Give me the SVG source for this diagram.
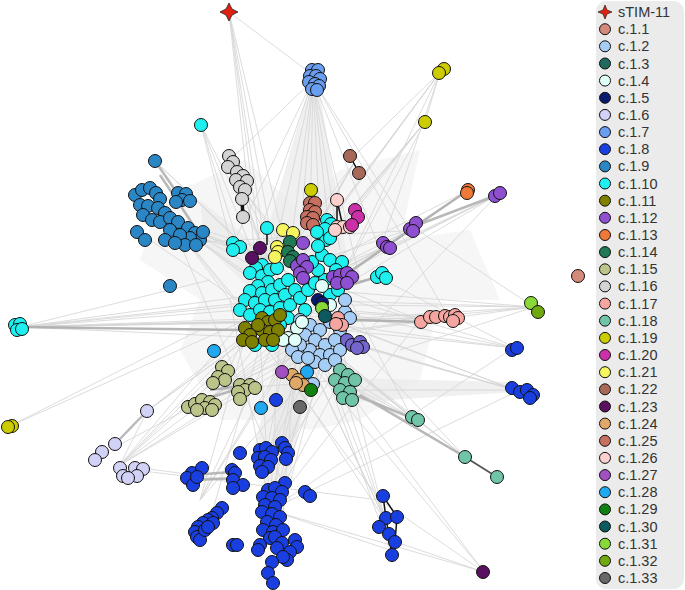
<svg xmlns="http://www.w3.org/2000/svg" width="685" height="590" viewBox="0 0 685 590">
<style>
.n circle{r:6.5px;stroke:#111;stroke-width:1}
.lg circle{r:5.5px;stroke:#111;stroke-width:1}
.lg text{font-family:"Liberation Sans",Arial,sans-serif;font-size:14.5px;fill:#333}
.e1{stroke:#d6d6d6;stroke-width:1;fill:none;opacity:.85}
.e2{stroke:#a8a8a8;stroke-width:2.5;fill:none;opacity:.8}
.e3{stroke:#111;stroke-width:1.5;fill:none}
.w{fill:#e4e4e4;opacity:.55}
.wb{fill:#ececec;opacity:.45}
.k1{fill:#d48a7a}.k2{fill:#a6cdf5}.k3{fill:#1e6b5e}.k4{fill:#e0fff8}.k5{fill:#0a1a6e}.k6{fill:#d2d2f6}.k7{fill:#6a9ef0}.k8{fill:#1a3fe0}.k9{fill:#2a86c4}.k10{fill:#1ef0f0}.k11{fill:#808000}.k12{fill:#8e4fd0}.k13{fill:#f07838}.k14{fill:#1f7a55}.k15{fill:#bcc48a}.k16{fill:#d4d4d4}.k17{fill:#f5a6a0}.k18{fill:#70c4a8}.k19{fill:#cccc00}.k20{fill:#cc30a8}.k21{fill:#f5f560}.k22{fill:#a86858}.k23{fill:#5a1060}.k24{fill:#e0a868}.k25{fill:#c87060}.k26{fill:#fcd0cc}.k27{fill:#a050c0}.k28{fill:#20a8f0}.k29{fill:#108010}.k30{fill:#0a5a60}.k31{fill:#88d838}.k32{fill:#70a810}.k33{fill:#686868}.ks{fill:#7466cc}
</style>
<rect width="685" height="590" fill="#fff"/>
<g id="edges">
<polygon class="w" points="309,88 319,88 348,262 258,262"/>
<polygon class="w" points="200,200 205,245 262,300 272,258"/>
<polygon class="w" points="255,445 292,445 322,350 280,340"/>
<polygon class="w" points="262,490 288,490 312,360 288,355"/>
<polygon class="w" points="342,378 358,402 512,392 514,382"/>
<polygon class="wb" points="160,200 245,160 300,210 340,170 420,150 400,240 470,230 500,300 440,300 420,380 360,420 310,430 260,420 220,420 180,350 200,300 140,260"/>
<path class="e1" d="M229,12L262,260M229,12L268,265M229,12L275,255M229,12L285,245M229,12L255,255M229,12L313,75
M313,80L230,250M313,80L250,260M313,80L270,270M313,80L290,250M313,80L300,240M313,80L310,230M313,80L320,230M313,80L330,240M313,80L340,250M313,80L360,280M313,80L380,250M313,80L230,160M313,80L450,320M313,80L410,230
M440,72L425,122M440,72L350,160M440,72L330,220M440,72L310,250M440,72L300,260M440,72L340,280M440,72L380,250
M425,122L340,230M425,122L320,250M425,122L350,210M425,122L330,300M425,122L300,270
M201,125L240,250M201,125L260,270M201,125L230,240M201,125L290,300
M240,185L270,270M240,185L300,300M240,185L290,250M240,185L260,240M240,185L320,300
M170,220L260,270M170,220L280,300M170,220L300,310M170,220L250,320M170,220L320,330M170,220L240,250M170,220L300,260M170,220L350,300M170,220L270,340M170,220L420,320M170,220L380,500M170,220L290,500M190,235L340,280M150,240L310,350M185,243L420,230
M155,161L300,300M155,161L260,260
M20,327L250,330M20,327L290,320M20,327L320,320M20,327L340,320M20,327L360,315M20,327L300,300M20,327L270,300M20,327L240,310M20,327L310,340M20,327L420,320M20,327L450,317M20,327L210,280M20,327L380,278
M8,427L200,330M8,427L290,300
M120,465L250,330M120,465L280,310M120,465L300,330M120,465L320,340M120,465L260,300M120,465L215,380M120,465L230,480M120,465L147,411M120,465L350,330M135,470L380,500M100,455L300,350
M147,411L290,300M147,411L260,330M147,411L330,280
M220,390L270,330M220,390L300,320M220,390L330,340M220,390L260,300M220,390L340,380M200,405L310,330M200,405L350,310
M270,510L300,340M270,510L320,350M270,510L280,330M270,510L260,340M270,510L340,380M270,510L310,320M270,510L420,320M270,510L350,300M270,510L230,300M270,510L510,350M270,510L520,390M275,540L330,330M280,550L300,300
M200,500L280,330M200,500L300,340M200,500L250,320M200,500L330,350M200,500L320,300M210,520L270,310
M265,460L290,330M265,460L310,340M265,460L330,330M285,450L340,320M285,450L330,380
M385,520L320,350M385,520L300,340M385,520L340,380M385,520L290,320M385,520L330,300M385,520L260,330M390,550L310,330M390,550L270,510
M484,572L390,540M484,572L340,380M484,572L300,350M484,572L270,510M484,572L380,500
M465,457L340,380M465,457L330,350M465,457L300,330M465,457L415,418M465,457L360,345
M412,418L340,380M412,418L320,340M412,418L290,320M412,418L270,330M412,418L350,300
M515,390L340,340M515,390L330,320M515,390L300,330M515,390L360,345M515,390L280,300M515,390L345,390
M515,348L340,330M515,348L300,320M515,348L350,300M515,348L280,300M515,348L380,278
M534,307L350,305M534,307L300,300M534,307L330,320M534,307L320,290M534,307L400,320M534,307L400,350M534,307L360,330M534,307L410,225
M440,318L330,320M440,318L340,310M440,318L300,310M440,318L350,330
M467,191L340,280M467,191L330,260M467,191L380,250M467,191L300,300
M497,195L340,270M497,195L330,280M497,195L390,248M497,195L320,300M497,195L360,340
M413,228L330,270M413,228L320,260M413,228L340,280M387,246L330,270M387,246L320,280M377,277L330,290M377,277L310,300
M354,163L320,220M354,163L310,240M354,163L300,260M354,163L290,250"/>
<path class="e2" d="M155,161L180,197M160,175L200,235M413,228L345,275M387,246L345,275M467,191L413,228M497,195L415,226M377,277L340,288M420,322L355,320M412,418L355,395M188,405L240,388M147,411L115,444M192,475L232,472M197,480L235,478M20,327L240,330M465,457L360,395M210,390L250,385"/>
<path class="e3" d="M350,156L359,173M337,200L337,227M337,200L343,227M267,228L267,245M260,248L255,258M383,496L386,518M383,496L397,517M386,518L392,555M397,517L395,542M379,527L389,534M268,567L273,583M316,232L325,240M262,466L268,475"/>
<path d="M242,199L243,217" stroke="#111" stroke-width="3.5"/>
<path d="M465,457L497,477" stroke="#555" stroke-width="1.8"/>
</g>
<g id="sTIM-11"><path d="M229,3L232,9L238,12L232,15L229,21L226,15L220,12L226,9Z" fill="#e02010" stroke="#222" stroke-width=".8"/></g>
<g id="c1.7" class="n k7"><circle cx="312" cy="70"/><circle cx="318" cy="70"/><circle cx="310" cy="76"/><circle cx="316" cy="76"/><circle cx="320" cy="79"/><circle cx="309" cy="82"/><circle cx="315" cy="84"/><circle cx="319" cy="86"/><circle cx="312" cy="89"/><circle cx="317" cy="90"/></g>
<g id="c1.19" class="n k19"><circle cx="444" cy="69"/><circle cx="439" cy="73"/><circle cx="425" cy="122"/><circle cx="311" cy="190"/><circle cx="12" cy="426"/><circle cx="8" cy="427"/></g>
<g id="c1.22" class="n k22"><circle cx="350" cy="156"/><circle cx="359" cy="173"/></g>
<g id="c1.25" class="n k25"><circle cx="310" cy="203"/><circle cx="315" cy="203"/><circle cx="310" cy="210"/><circle cx="315" cy="212"/><circle cx="307" cy="217"/><circle cx="313" cy="218"/><circle cx="307" cy="223"/><circle cx="313" cy="225"/></g>
<g id="c1.16" class="n k16"><circle cx="229" cy="156"/><circle cx="233" cy="162"/><circle cx="228" cy="167"/><circle cx="237" cy="172"/><circle cx="243" cy="176"/><circle cx="236" cy="180"/><circle cx="247" cy="181"/><circle cx="240" cy="187"/><circle cx="245" cy="190"/><circle cx="242" cy="199"/><circle cx="243" cy="217"/></g>
<g id="c1.9" class="n k9"><circle cx="155" cy="161"/><circle cx="178" cy="193"/><circle cx="186" cy="194"/><circle cx="182" cy="200"/><circle cx="190" cy="201"/><circle cx="176" cy="202"/><circle cx="135" cy="195"/><circle cx="142" cy="190"/><circle cx="150" cy="188"/><circle cx="156" cy="193"/><circle cx="160" cy="199"/><circle cx="140" cy="205"/><circle cx="148" cy="206"/><circle cx="158" cy="208"/><circle cx="165" cy="213"/><circle cx="143" cy="215"/><circle cx="152" cy="220"/><circle cx="160" cy="222"/><circle cx="170" cy="218"/><circle cx="178" cy="222"/><circle cx="188" cy="228"/><circle cx="195" cy="233"/><circle cx="200" cy="240"/><circle cx="190" cy="238"/><circle cx="170" cy="230"/><circle cx="180" cy="235"/><circle cx="137" cy="232"/><circle cx="145" cy="240"/><circle cx="185" cy="245"/><circle cx="165" cy="240"/><circle cx="175" cy="243"/><circle cx="203" cy="232"/><circle cx="196" cy="245"/><circle cx="170" cy="286"/></g>
<g id="c1.10" class="n k10"><circle cx="201" cy="125"/><circle cx="15" cy="325"/><circle cx="20" cy="324"/><circle cx="17" cy="330"/><circle cx="22" cy="329"/><circle cx="233" cy="243"/><circle cx="240" cy="247"/><circle cx="233" cy="250"/><circle cx="267" cy="228"/><circle cx="262" cy="265"/><circle cx="256" cy="268"/><circle cx="250" cy="273"/><circle cx="262" cy="276"/><circle cx="270" cy="270"/><circle cx="277" cy="268"/><circle cx="268" cy="282"/><circle cx="258" cy="286"/><circle cx="250" cy="291"/><circle cx="262" cy="293"/><circle cx="272" cy="290"/><circle cx="280" cy="285"/><circle cx="288" cy="280"/><circle cx="245" cy="300"/><circle cx="255" cy="303"/><circle cx="265" cy="300"/><circle cx="275" cy="300"/><circle cx="285" cy="295"/><circle cx="295" cy="290"/><circle cx="240" cy="310"/><circle cx="250" cy="315"/><circle cx="260" cy="310"/><circle cx="270" cy="312"/><circle cx="280" cy="308"/><circle cx="290" cy="305"/><circle cx="300" cy="298"/><circle cx="308" cy="290"/><circle cx="315" cy="283"/><circle cx="325" cy="280"/><circle cx="318" cy="270"/><circle cx="312" cy="262"/><circle cx="322" cy="255"/><circle cx="330" cy="260"/><circle cx="326" cy="240"/><circle cx="318" cy="246"/><circle cx="327" cy="220"/><circle cx="331" cy="224"/><circle cx="325" cy="229"/><circle cx="317" cy="232"/><circle cx="330" cy="238"/><circle cx="288" cy="318"/><circle cx="280" cy="325"/><circle cx="305" cy="310"/><circle cx="330" cy="295"/><circle cx="338" cy="290"/><circle cx="255" cy="345"/><circle cx="272" cy="345"/><circle cx="377" cy="277"/><circle cx="382" cy="273"/><circle cx="386" cy="278"/><circle cx="342" cy="262"/><circle cx="336" cy="270"/></g>
<g id="c1.23" class="n k23"><circle cx="260" cy="248"/><circle cx="252" cy="258"/><circle cx="483" cy="572"/></g>
<g id="c1.21" class="n k21"><circle cx="283" cy="230"/><circle cx="293" cy="233"/><circle cx="277" cy="247"/><circle cx="278" cy="252"/><circle cx="275" cy="257"/></g>
<g id="c1.14" class="n k14"><circle cx="290" cy="242"/><circle cx="288" cy="252"/><circle cx="293" cy="257"/><circle cx="290" cy="261"/></g>
<g id="c1.26" class="n k26"><circle cx="337" cy="200"/><circle cx="337" cy="227"/><circle cx="343" cy="227"/><circle cx="350" cy="227"/><circle cx="335" cy="230"/></g>
<g id="c1.20" class="n k20"><circle cx="355" cy="210"/><circle cx="358" cy="217"/><circle cx="352" cy="225"/></g>
<g id="c1.12" class="n k12"><circle cx="303" cy="243"/><circle cx="300" cy="263"/><circle cx="297" cy="266"/><circle cx="303" cy="260"/><circle cx="307" cy="267"/><circle cx="300" cy="273"/><circle cx="303" cy="278"/><circle cx="383" cy="243"/><circle cx="387" cy="247"/><circle cx="390" cy="248"/><circle cx="333" cy="277"/><circle cx="340" cy="275"/><circle cx="347" cy="273"/><circle cx="352" cy="277"/><circle cx="337" cy="283"/><circle cx="347" cy="283"/><circle cx="410" cy="229"/><circle cx="416" cy="223"/><circle cx="413" cy="231"/><circle cx="495" cy="196"/><circle cx="500" cy="193"/></g>
<g id="c1.13" class="n k13"><circle cx="468" cy="190"/><circle cx="467" cy="193"/></g>
<g id="c1.2" class="n k2"><circle cx="300" cy="320"/><circle cx="310" cy="325"/><circle cx="320" cy="330"/><circle cx="330" cy="322"/><circle cx="340" cy="330"/><circle cx="305" cy="335"/><circle cx="315" cy="340"/><circle cx="325" cy="345"/><circle cx="335" cy="340"/><circle cx="310" cy="350"/><circle cx="320" cy="355"/><circle cx="330" cy="355"/><circle cx="340" cy="350"/><circle cx="300" cy="345"/><circle cx="292" cy="350"/><circle cx="315" cy="362"/><circle cx="325" cy="365"/><circle cx="335" cy="360"/><circle cx="345" cy="312"/><circle cx="350" cy="318"/><circle cx="345" cy="300"/><circle cx="298" cy="357"/><circle cx="308" cy="358"/><circle cx="313" cy="384"/></g>
<g id="c1.4" class="n k4"><circle cx="297" cy="328"/><circle cx="302" cy="322"/><circle cx="288" cy="338"/><circle cx="322" cy="286"/><circle cx="283" cy="340"/><circle cx="295" cy="340"/><circle cx="330" cy="305"/></g>
<g id="c1.5" class="n k5"><circle cx="318" cy="300"/><circle cx="322" cy="303"/></g>
<g id="c1.31" class="n k31"><circle cx="322" cy="308"/><circle cx="531" cy="303"/></g>
<g id="c1.32" class="n k32"><circle cx="538" cy="312"/></g>
<g id="c1.30" class="n k30"><circle cx="325" cy="316"/></g>
<g id="c1.17" class="n k17"><circle cx="338" cy="318"/><circle cx="342" cy="325"/><circle cx="336" cy="324"/><circle cx="421" cy="322"/><circle cx="430" cy="317"/><circle cx="436" cy="317"/><circle cx="445" cy="316"/><circle cx="450" cy="317"/><circle cx="455" cy="315"/><circle cx="458" cy="318"/><circle cx="453" cy="321"/></g>
<g id="c1.27" class="n ks"><circle cx="347" cy="340"/><circle cx="352" cy="345"/><circle cx="360" cy="342"/><circle cx="363" cy="347"/><circle cx="357" cy="348"/></g>
<g id="c1.11" class="n k11"><circle cx="245" cy="328"/><circle cx="250" cy="335"/><circle cx="243" cy="340"/><circle cx="252" cy="342"/><circle cx="262" cy="318"/><circle cx="268" cy="322"/><circle cx="275" cy="320"/><circle cx="262" cy="330"/><circle cx="270" cy="332"/><circle cx="278" cy="330"/><circle cx="265" cy="340"/><circle cx="273" cy="340"/><circle cx="258" cy="325"/><circle cx="280" cy="315"/></g>
<g id="c1.28" class="n k28"><circle cx="214" cy="351"/><circle cx="261" cy="408"/><circle cx="307" cy="372"/></g>
<g id="c1.15" class="n k15"><circle cx="222" cy="367"/><circle cx="228" cy="371"/><circle cx="218" cy="377"/><circle cx="225" cy="380"/><circle cx="213" cy="383"/><circle cx="240" cy="385"/><circle cx="250" cy="385"/><circle cx="245" cy="390"/><circle cx="238" cy="392"/><circle cx="255" cy="388"/><circle cx="188" cy="407"/><circle cx="195" cy="404"/><circle cx="202" cy="400"/><circle cx="210" cy="402"/><circle cx="205" cy="408"/><circle cx="215" cy="405"/><circle cx="212" cy="410"/><circle cx="197" cy="410"/><circle cx="240" cy="399"/></g>
<g id="c1.24" class="n k24"><circle cx="292" cy="375"/><circle cx="298" cy="380"/><circle cx="303" cy="385"/><circle cx="296" cy="383"/></g>
<g id="c1.27b" class="n k27"><circle cx="282" cy="372"/></g>
<g id="c1.29" class="n k29"><circle cx="311" cy="390"/></g>
<g id="c1.33" class="n k33"><circle cx="300" cy="407"/></g>
<g id="c1.18" class="n k18"><circle cx="340" cy="370"/><circle cx="348" cy="375"/><circle cx="335" cy="380"/><circle cx="345" cy="383"/><circle cx="355" cy="380"/><circle cx="340" cy="390"/><circle cx="350" cy="392"/><circle cx="343" cy="398"/><circle cx="352" cy="400"/><circle cx="412" cy="417"/><circle cx="418" cy="420"/><circle cx="465" cy="457"/><circle cx="497" cy="477"/></g>
<g id="c1.1" class="n k1"><circle cx="578" cy="276"/></g>
<g id="c1.6" class="n k6"><circle cx="147" cy="411"/><circle cx="115" cy="444"/><circle cx="102" cy="452"/><circle cx="95" cy="460"/><circle cx="120" cy="468"/><circle cx="123" cy="476"/><circle cx="135" cy="468"/><circle cx="143" cy="469"/><circle cx="137" cy="476"/><circle cx="128" cy="478"/></g>
<g id="c1.8" class="n k8"><circle cx="276" cy="400"/><circle cx="512" cy="350"/><circle cx="517" cy="348"/><circle cx="512" cy="388"/><circle cx="520" cy="392"/><circle cx="527" cy="390"/><circle cx="533" cy="395"/><circle cx="530" cy="398"/><circle cx="383" cy="496"/><circle cx="386" cy="518"/><circle cx="397" cy="517"/><circle cx="379" cy="527"/><circle cx="389" cy="534"/><circle cx="395" cy="542"/><circle cx="392" cy="555"/><circle cx="240" cy="453"/><circle cx="260" cy="450"/><circle cx="266" cy="448"/><circle cx="272" cy="452"/><circle cx="258" cy="458"/><circle cx="265" cy="457"/><circle cx="271" cy="460"/><circle cx="260" cy="466"/><circle cx="268" cy="467"/><circle cx="262" cy="472"/><circle cx="282" cy="443"/><circle cx="285" cy="448"/><circle cx="288" cy="453"/><circle cx="286" cy="459"/><circle cx="192" cy="473"/><circle cx="202" cy="468"/><circle cx="187" cy="478"/><circle cx="193" cy="485"/><circle cx="197" cy="477"/><circle cx="232" cy="470"/><circle cx="235" cy="473"/><circle cx="233" cy="480"/><circle cx="243" cy="485"/><circle cx="233" cy="488"/><circle cx="285" cy="483"/><circle cx="305" cy="492"/><circle cx="310" cy="496"/><circle cx="222" cy="508"/><circle cx="217" cy="513"/><circle cx="212" cy="518"/><circle cx="208" cy="520"/><circle cx="203" cy="523"/><circle cx="198" cy="527"/><circle cx="195" cy="532"/><circle cx="197" cy="537"/><circle cx="200" cy="540"/><circle cx="205" cy="530"/><circle cx="213" cy="523"/><circle cx="208" cy="527"/><circle cx="233" cy="545"/><circle cx="237" cy="545"/><circle cx="268" cy="490"/><circle cx="275" cy="488"/><circle cx="282" cy="492"/><circle cx="263" cy="497"/><circle cx="272" cy="498"/><circle cx="280" cy="500"/><circle cx="265" cy="505"/><circle cx="275" cy="507"/><circle cx="262" cy="512"/><circle cx="272" cy="514"/><circle cx="280" cy="517"/><circle cx="267" cy="522"/><circle cx="276" cy="525"/><circle cx="263" cy="530"/><circle cx="273" cy="532"/><circle cx="283" cy="530"/><circle cx="270" cy="538"/><circle cx="275" cy="537"/><circle cx="282" cy="543"/><circle cx="277" cy="548"/><circle cx="260" cy="545"/><circle cx="258" cy="550"/><circle cx="295" cy="540"/><circle cx="297" cy="547"/><circle cx="290" cy="552"/><circle cx="287" cy="560"/><circle cx="283" cy="557"/><circle cx="272" cy="562"/><circle cx="268" cy="573"/><circle cx="273" cy="583"/></g>
<g id="legend" class="lg">
<rect x="596" y="1" width="88" height="588" rx="10" fill="#ebebeb"/>
<path d="M605,5L607,10L612,12L607,14L605,19L603,14L598,12L603,10Z" fill="#e02010" stroke="#222" stroke-width=".7"/>
<text x="618" y="17">sTIM-11</text>
<circle class="k1" cx="605" cy="29.2"/><text x="618" y="34.2">c.1.1</text>
<circle class="k2" cx="605" cy="46.3"/><text x="618" y="51.3">c.1.2</text>
<circle class="k3" cx="605" cy="63.5"/><text x="618" y="68.5">c.1.3</text>
<circle class="k4" cx="605" cy="80.6"/><text x="618" y="85.6">c.1.4</text>
<circle class="k5" cx="605" cy="97.8"/><text x="618" y="102.8">c.1.5</text>
<circle class="k6" cx="605" cy="114.9"/><text x="618" y="119.9">c.1.6</text>
<circle class="k7" cx="605" cy="132.1"/><text x="618" y="137.1">c.1.7</text>
<circle class="k8" cx="605" cy="149.2"/><text x="618" y="154.2">c.1.8</text>
<circle class="k9" cx="605" cy="166.4"/><text x="618" y="171.4">c.1.9</text>
<circle class="k10" cx="605" cy="183.5"/><text x="618" y="188.5">c.1.10</text>
<circle class="k11" cx="605" cy="200.7"/><text x="618" y="205.7">c.1.11</text>
<circle class="k12" cx="605" cy="217.8"/><text x="618" y="222.8">c.1.12</text>
<circle class="k13" cx="605" cy="235"/><text x="618" y="240">c.1.13</text>
<circle class="k14" cx="605" cy="252.1"/><text x="618" y="257.1">c.1.14</text>
<circle class="k15" cx="605" cy="269.3"/><text x="618" y="274.3">c.1.15</text>
<circle class="k16" cx="605" cy="286.4"/><text x="618" y="291.4">c.1.16</text>
<circle class="k17" cx="605" cy="303.6"/><text x="618" y="308.6">c.1.17</text>
<circle class="k18" cx="605" cy="320.7"/><text x="618" y="325.7">c.1.18</text>
<circle class="k19" cx="605" cy="337.9"/><text x="618" y="342.9">c.1.19</text>
<circle class="k20" cx="605" cy="355"/><text x="618" y="360">c.1.20</text>
<circle class="k21" cx="605" cy="372.2"/><text x="618" y="377.2">c.1.21</text>
<circle class="k22" cx="605" cy="389.3"/><text x="618" y="394.3">c.1.22</text>
<circle class="k23" cx="605" cy="406.5"/><text x="618" y="411.5">c.1.23</text>
<circle class="k24" cx="605" cy="423.6"/><text x="618" y="428.6">c.1.24</text>
<circle class="k25" cx="605" cy="440.8"/><text x="618" y="445.8">c.1.25</text>
<circle class="k26" cx="605" cy="457.9"/><text x="618" y="462.9">c.1.26</text>
<circle class="k27" cx="605" cy="475.1"/><text x="618" y="480.1">c.1.27</text>
<circle class="k28" cx="605" cy="492.2"/><text x="618" y="497.2">c.1.28</text>
<circle class="k29" cx="605" cy="509.4"/><text x="618" y="514.4">c.1.29</text>
<circle class="k30" cx="605" cy="526.5"/><text x="618" y="531.5">c.1.30</text>
<circle class="k31" cx="605" cy="543.7"/><text x="618" y="548.7">c.1.31</text>
<circle class="k32" cx="605" cy="560.8"/><text x="618" y="565.8">c.1.32</text>
<circle class="k33" cx="605" cy="578"/><text x="618" y="583">c.1.33</text>
</g>
</svg>
